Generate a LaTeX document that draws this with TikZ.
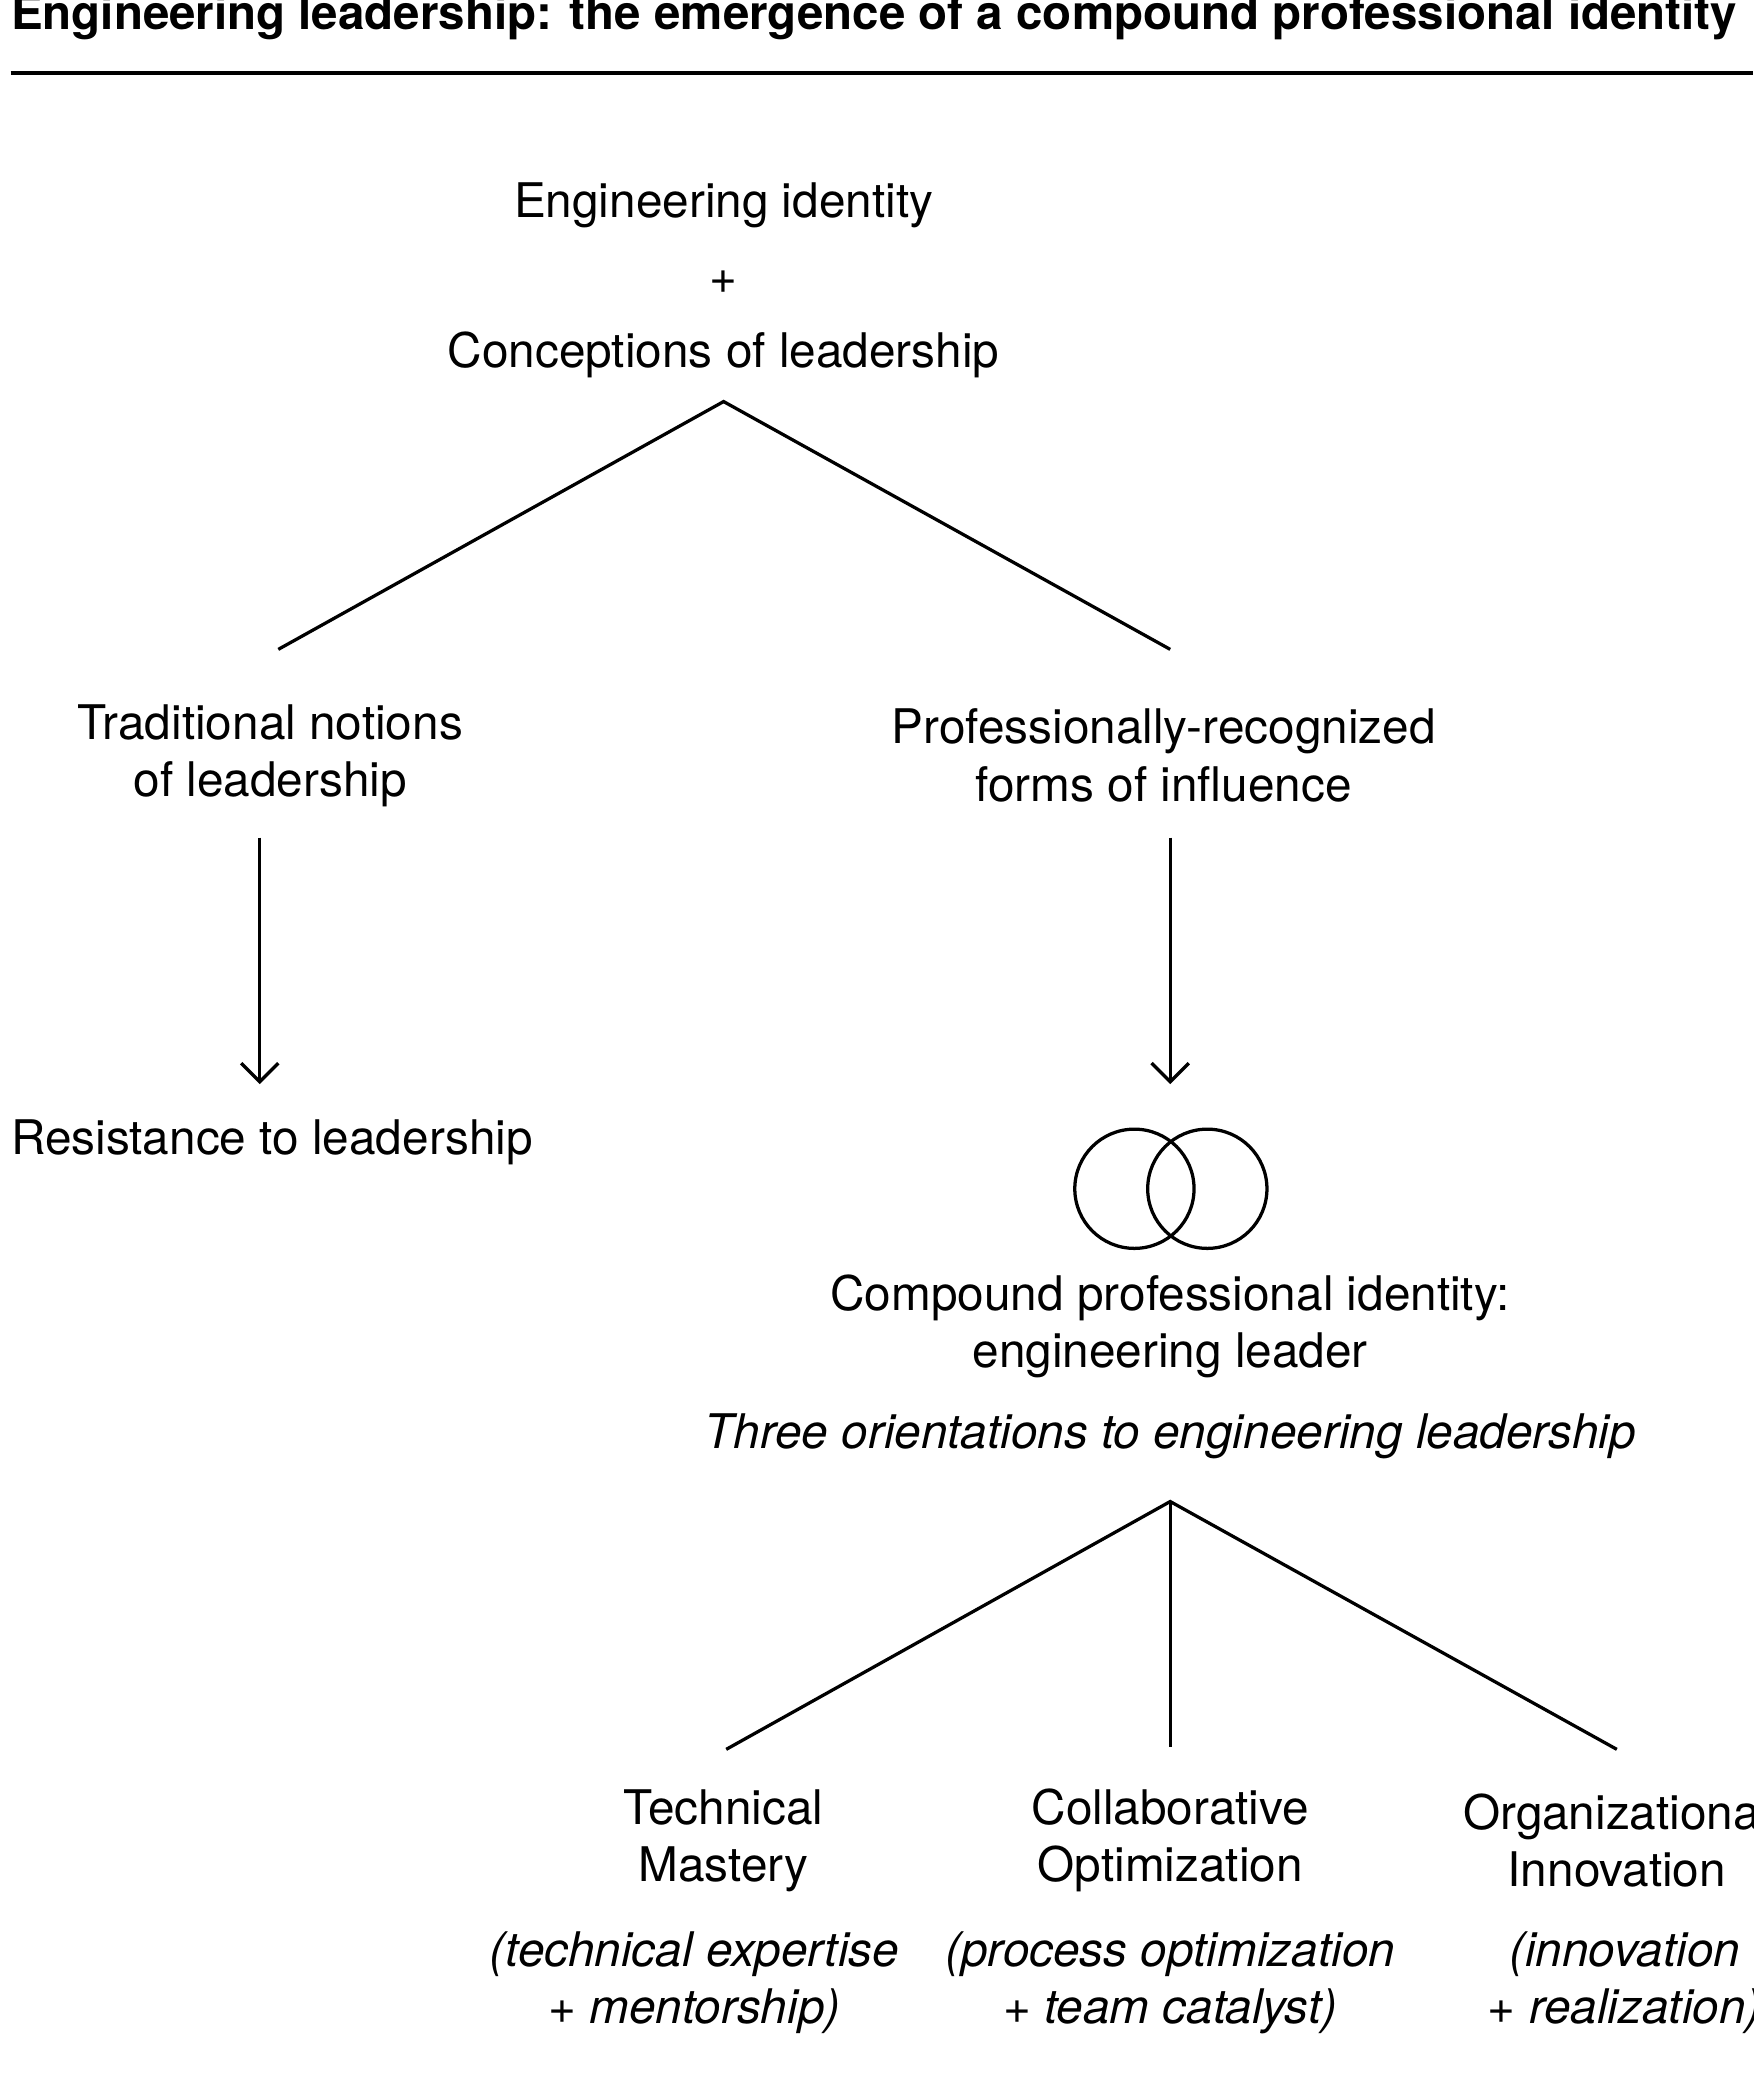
\documentclass[tikz,border=0pt]{standalone}
\usepackage{fontspec}
\setmainfont{TeX Gyre Heros}
\usetikzlibrary{positioning,arrows.meta}

\begin{document}
\begin{tikzpicture}
    [%%%%%%%%%%%%%%%%%%%%%%%%%%%%%%
    x=0.02cm,y=-0.02cm,
    txt/.style={align=center,font=\fontsize{20.5}{24.5}\selectfont,inner sep=0pt},
    itl/.style={txt,font=\fontsize{20.5}{24.5}\selectfont\itshape},
    ln/.style={line width=1.4pt},
    arr/.style={ln,-{Straight Barb[length=8pt,width=16pt]}},
    ]%%%%%%%%%%%%%%%%%%%%%%%%%%%%%%

    \useasboundingbox (0,0) rectangle (1323,1568);
    \clip (0,0) rectangle (1323,1568);

    % title
    \node[anchor=base west,inner sep=0pt,font=\fontsize{20.4}{24}\selectfont\bfseries] (title) at (8,22)
        {Engineering leadership: the emergence of a compound professional identity};
    \coordinate (rulea) at (8,55);
    \coordinate (ruleb) at (1323,55);
    \draw[ln] (rulea) -- (ruleb);

    % top
    \node[txt] (eng) at (546,155) {Engineering identity};
    \node[txt] (plus) at (546,213) {+};
    \node[txt] (conc) at (546,268) {Conceptions of leadership};
    \coordinate (apex) at (546,303);
    \coordinate (leftend) at (210,490);
    \coordinate (rightend) at (883,490);
    \draw[ln] (leftend) -- (apex) -- (rightend);

    % left branch
    \node[txt] (trad) at (204,570) {Traditional notions\\of leadership};
    \coordinate (tradA) at (196,632);
    \coordinate (tradB) at (196,818);
    \draw[arr] (tradA) -- (tradB);
    \node[txt,anchor=west] (resist) at (8,862) {Resistance to leadership};

    % right branch
    \node[txt] (prof) at (878,570) {Professionally-recognized\\forms of influence};
    \coordinate (profA) at (883,632);
    \coordinate (profB) at (883,818);
    \draw[arr] (profA) -- (profB);

    % venn
    \node[ln,draw,circle,minimum size=1.8cm] (circA) at (856,897) {};
    \node[ln,draw,circle,minimum size=1.8cm] (circB) at (911,897) {};

    \node[txt] (comp) at (883,1001) {Compound professional identity:\\engineering leader};
    \node[itl] (three) at (883,1084) {Three orientations to engineering leadership};

    % orientations
    \coordinate (apexB) at (883,1133);
    \coordinate (tmEnd) at (548,1320);
    \coordinate (coEnd) at (883,1318);
    \coordinate (orEnd) at (1220,1320);
    \draw[ln] (tmEnd) -- (apexB) -- (orEnd);
    \draw[ln] (apexB) -- (coEnd);

    \node[txt] (tech) at (546,1389) {Technical\\Mastery};
    \node[txt] (coll) at (883,1389) {Collaborative\\Optimization};
    \node[txt] (org) at (1220,1389) {Organizational\\Innovation};

    \node[itl] (techsub) at (524,1496) {(technical expertise\\+ mentorship)};
    \node[itl] (collsub) at (883,1496) {(process optimization\\+ team catalyst)};
    \node[itl] (orgsub) at (1226,1496) {(innovation\\+ realization)};

\end{tikzpicture}
\end{document}
